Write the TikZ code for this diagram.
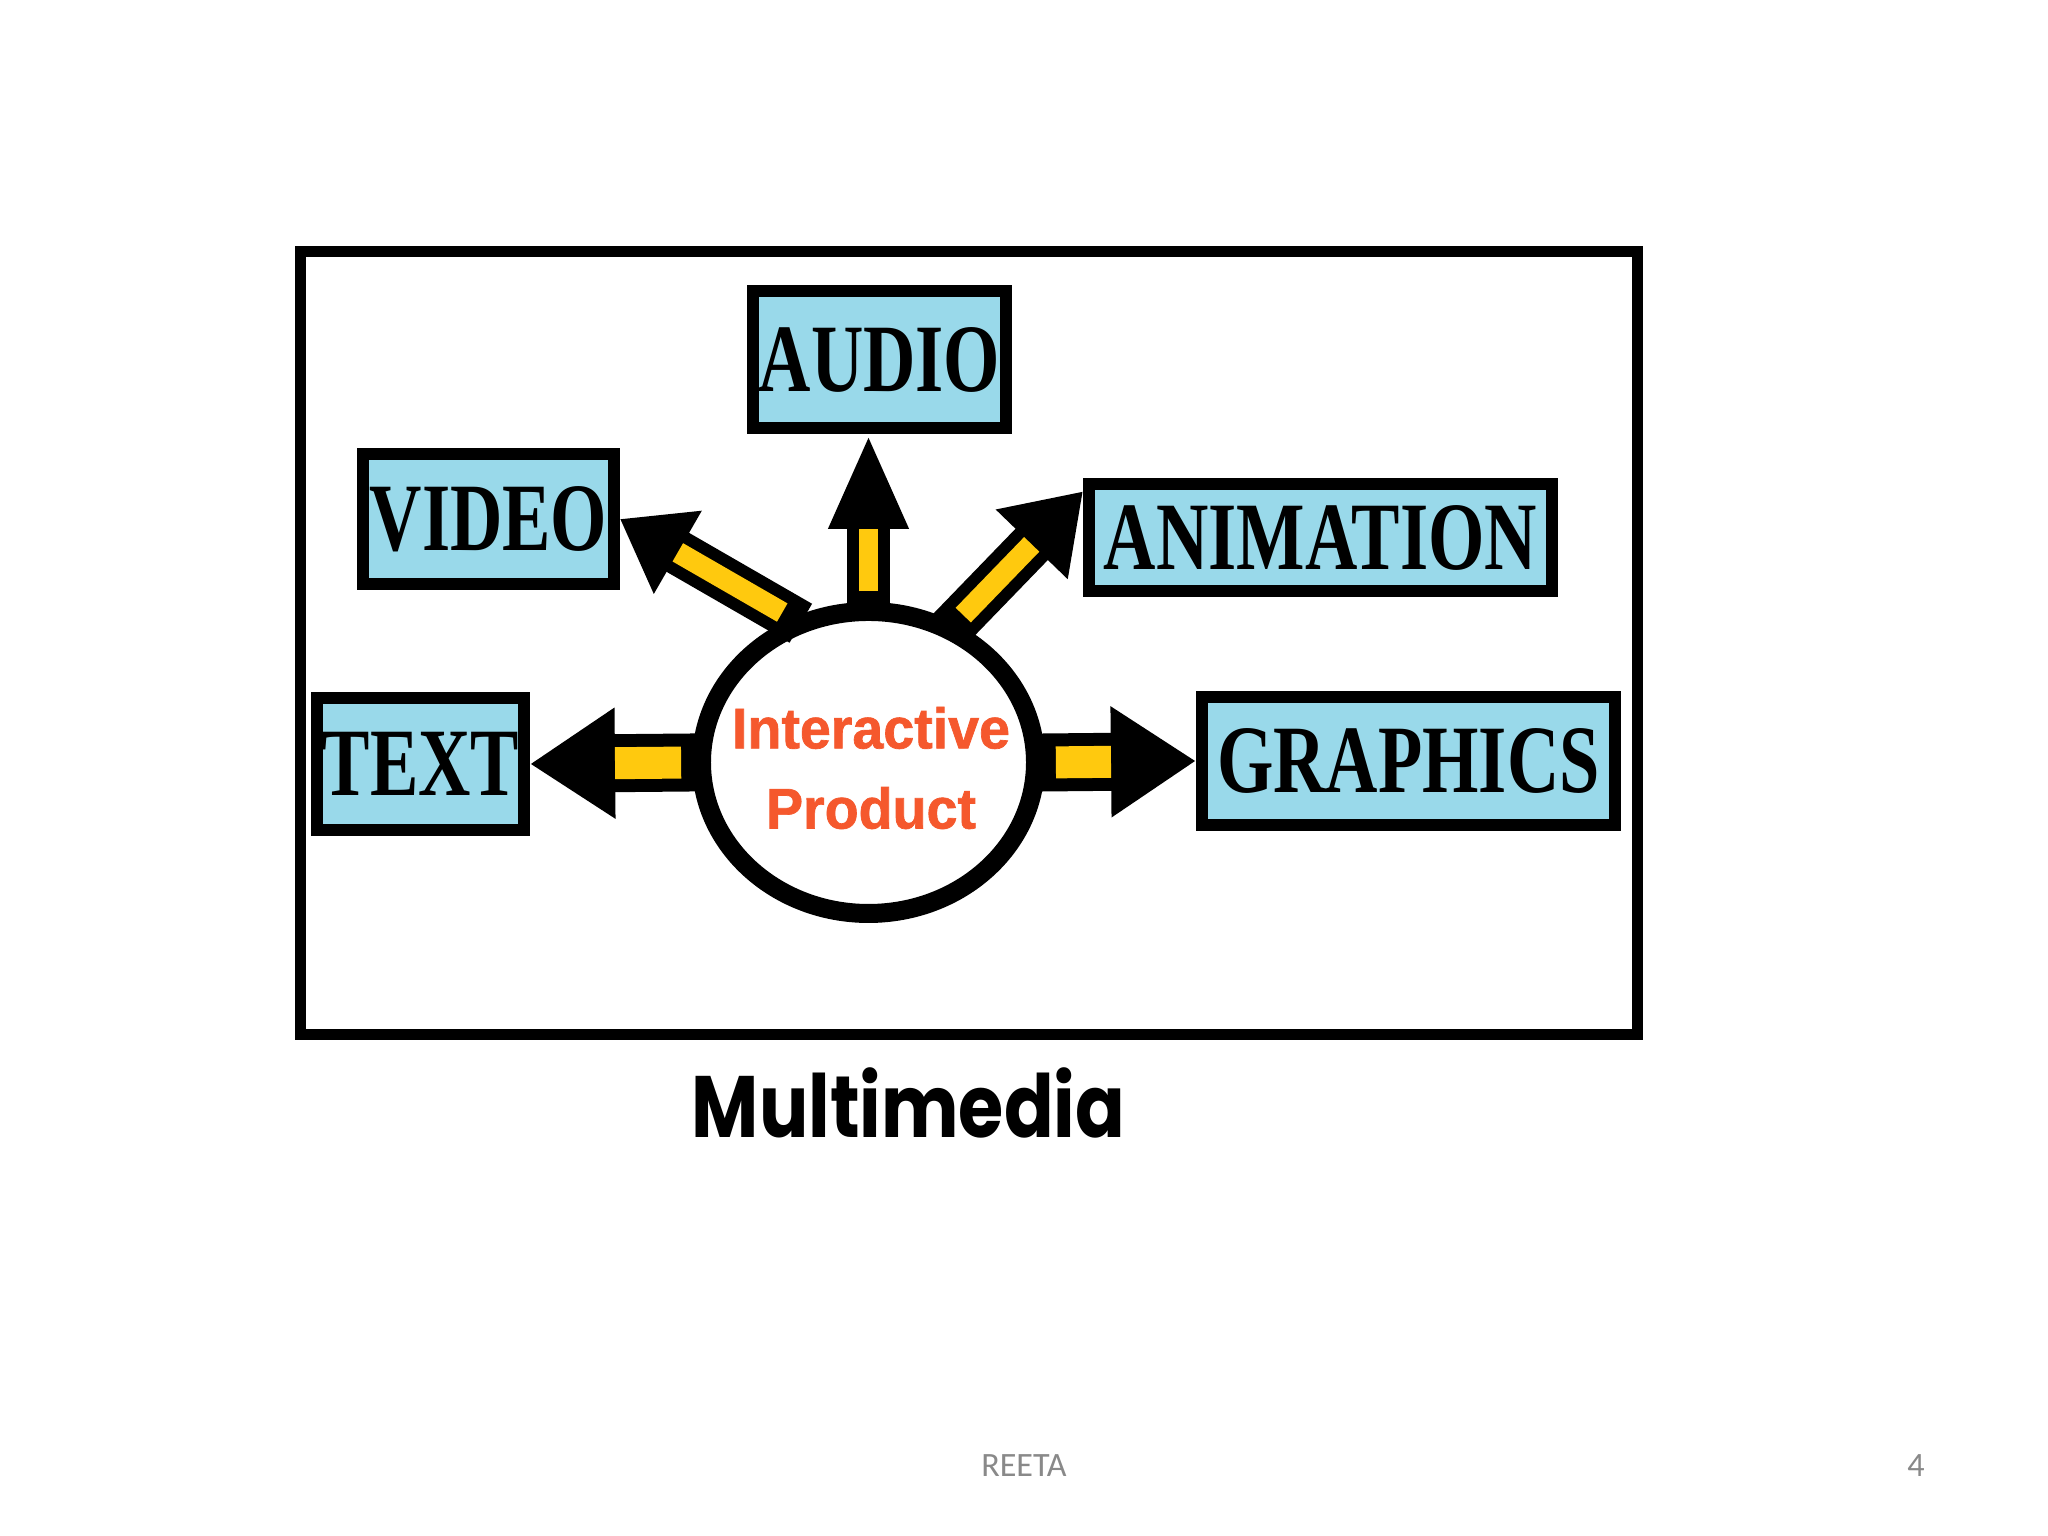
\documentclass[tikz,border=0pt]{standalone}
\usepackage{fontspec}
\usetikzlibrary{arrows.meta,shapes.geometric,positioning}

\newfontfamily\boxfont{Liberation Serif}[FakeStretch=0.75]
\newfontfamily\hubfont{Liberation Sans Bold}[FakeStretch=0.97,FakeBold=1.2]
\newfontfamily\titlefont{Poppins}[FakeStretch=0.84]
\newfontfamily\footfont{Carlito}

\definecolor{boxblue}{RGB}{153,217,234}
\definecolor{gold}{RGB}{255,201,14}
\definecolor{huborange}{RGB}{245,88,45}
\definecolor{footgray}{RGB}{137,137,137}

\tikzset{
  media/.style={rectangle, draw=black, fill=boxblue, line width=3.4pt, inner sep=0pt,
    font=\boxfont\bfseries\fontsize{27.5}{30}\selectfont},
  hub/.style={ellipse, draw=black, fill=white, line width=5.4pt, inner sep=0pt,
    minimum width=3.34cm, minimum height=3.02cm},
  hubtext/.style={align=center, text=huborange, inner sep=0pt,
    font=\hubfont\fontsize{16.3}{22.8}\selectfont},
  shaft/.style={draw=black, line width=#1, shorten <=-3pt},
  core/.style={draw=gold, line width=#1, shorten <=3.1pt},
}

\begin{document}
\begin{tikzpicture}
\useasboundingbox (0,0) rectangle (20.48,15.36);
\node[draw, line width=3.4pt, minimum width=13.37cm, minimum height=7.83cm] (frame) at (9.69,8.93) {};
\node[media, minimum width=2.53cm, minimum height=1.37cm] (audio) at (8.795,11.765) {AUDIO};
\node[media, minimum width=2.51cm, minimum height=1.30cm] (video) at (4.885,10.17) {VIDEO};
\node[media, minimum width=4.63cm, minimum height=1.07cm] (anim) at (13.205,9.985) {ANIMATION};
\node[media, minimum width=2.07cm, minimum height=1.32cm] (text) at (4.205,7.72) {TEXT};
\node[media, minimum width=4.13cm, minimum height=1.28cm] (graphics) at (14.085,7.75) {GRAPHICS};
\node[hub] (ip) at (8.685,7.735) {};
\node[hubtext] (iplabel) at (8.71,7.68) {Interactive\\Product};

% outline + head, then the yellow core
\foreach \a/\b/\o/\i/\w/\l in {
    ip.west/text.east/16.5pt/9.1pt/29.9pt/24.2pt,
    ip.east/graphics.west/16.5pt/9.1pt/29.9pt/24.2pt,
    ip.north/ip.north |- audio.south/12pt/5.4pt/20.8pt/27pt,
    ip.118/video.east/12.8pt/6pt/26pt/19pt,
    ip.58/anim.169/12.8pt/6pt/27pt/21pt} {
  \draw[shaft=\o, -{Triangle[width=\w,length=\l]}] (\a) -- (\b);
  \draw[core=\i, shorten >=\l] (\a) -- (\b);
}

\node[anchor=base, font=\titlefont\bfseries\fontsize{24.8}{28}\selectfont] (title) at (9.085,3.98) {Multimedia};
\node[anchor=base, text=footgray, font=\footfont\fontsize{9.7}{11}\selectfont] (author) at (10.24,0.59) {REETA};
\node[anchor=base, text=footgray, font=\footfont\fontsize{9.7}{11}\selectfont] (page) at (19.16,0.59) {4};
\end{tikzpicture}
\end{document}
